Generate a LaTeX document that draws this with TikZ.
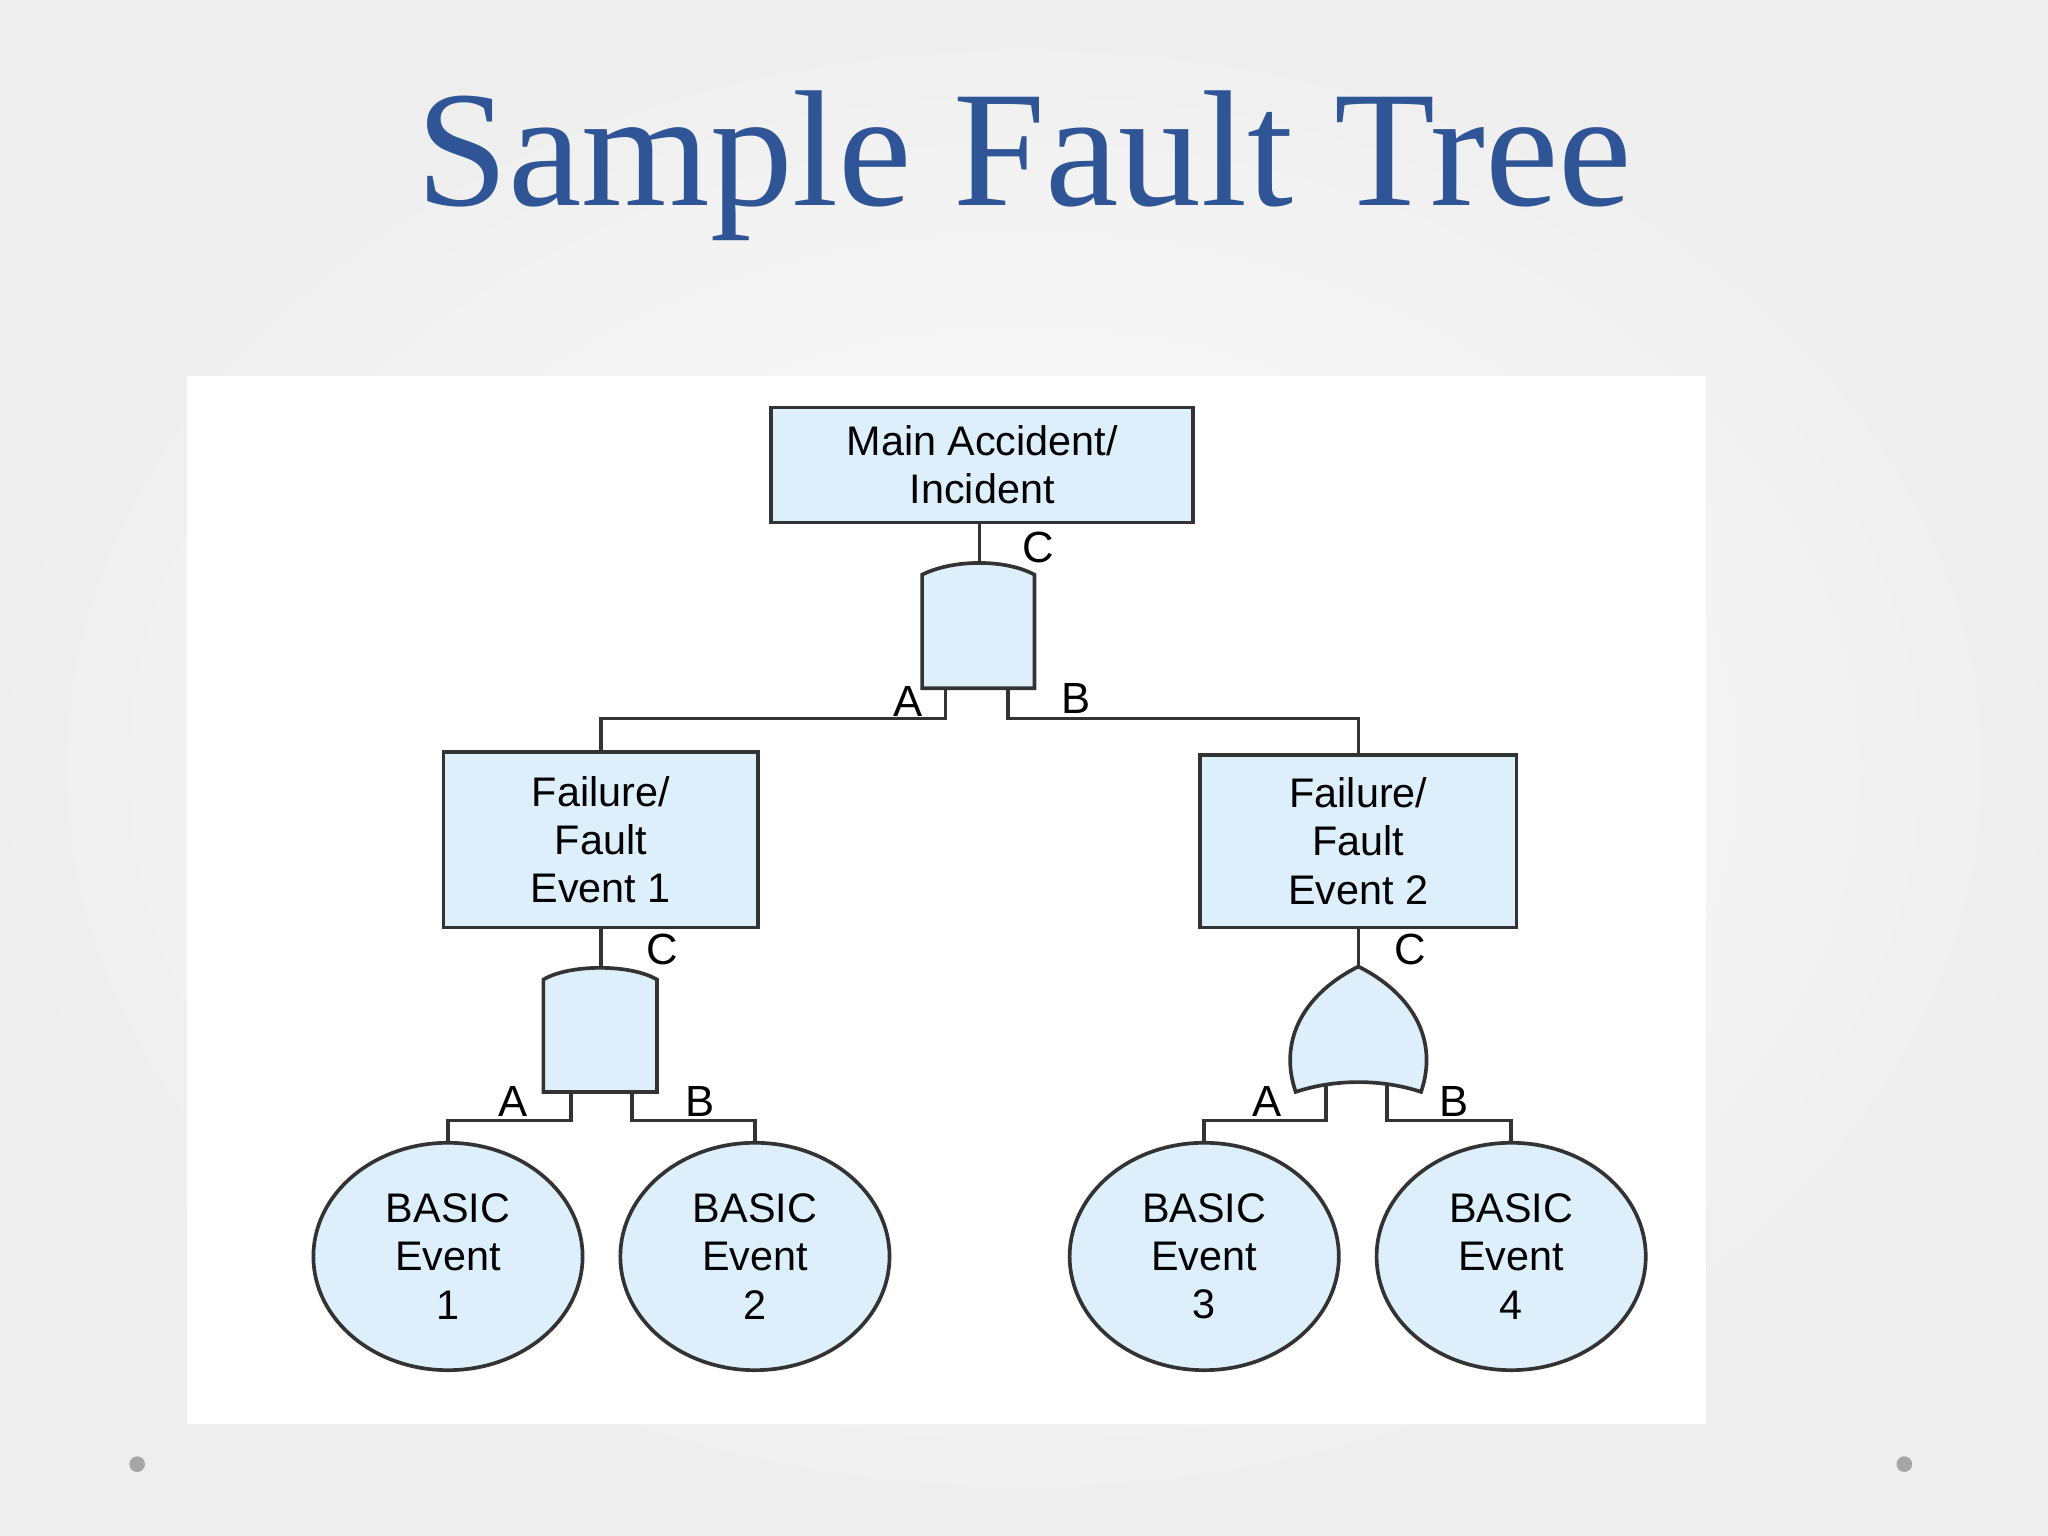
\documentclass[tikz,border=0pt]{standalone}
\usepackage{fontspec}
\usetikzlibrary{shapes.geometric}
\setmainfont{Liberation Sans}
\newfontfamily\titlefont{Liberation Serif}
\begin{document}
\begin{tikzpicture}[x=0.01cm,y=-0.01cm,
  ln/.style={draw=black!80,line width=0.8pt},
  box/.style={ln,fill=bfill,minimum width=3.23cm,minimum height=0.88cm,align=center,font=\fontsize{9}{10.5}\selectfont,inner sep=0pt},
  evt/.style={ln,fill=bfill,ellipse,minimum width=2.06cm,minimum height=1.74cm,align=center,font=\fontsize{9}{10.5}\selectfont,inner sep=0pt},
  lab/.style={font=\fontsize{9.5}{11}\selectfont}]
\definecolor{bfill}{HTML}{DDEFFB}
\definecolor{tblue}{HTML}{2F5597}
\useasboundingbox (0,0) rectangle (1568,1176);
\shade[inner color=white,outer color=gray!13] (0,0) rectangle (1568,1176);
\fill[white] (143,288) rectangle (1306,1090);
\fill[gray!70] (105,1121) circle (6) (1458,1121) circle (6);
\node[text=tblue,font=\titlefont\fontsize{36}{40}\selectfont] (title) at (784,127) {Sample Fault Tree};

\node[box] (main) at (752,356) {Main Accident/\\Incident};
\node[box,minimum width=2.41cm,minimum height=1.34cm] (f1) at (460,643) {Failure/\\Fault\\Event 1};
\node[box,minimum width=2.42cm,minimum height=1.32cm] (f2) at (1040,644) {Failure/\\Fault\\Event 2};
\node[evt] (b1) at (343,962) {BASIC\\Event\\1};
\node[evt] (b2) at (578,962) {BASIC\\Event\\2};
\node[evt] (b3) at (922,962) {BASIC\\Event\\3};
\node[evt] (b4) at (1157,962) {BASIC\\Event\\4};

% gate 1 (AND)
\coordinate (g1t) at (750,430);
\draw[ln,fill=bfill] (706,527) -- (706,440) .. controls (730,428) and (770,428) .. (792,440) -- (792,527) -- cycle;
\draw[ln] (main.south -| g1t) -- (g1t);
\coordinate (g1a) at (724,527); \coordinate (g1b) at (772,527);
\draw[ln] (g1a) -- (724,550) -| (f1.north);
\draw[ln] (g1b) -- (772,550) -| (f2.north);
\node[lab] (c1) at (795,419) {C};
\node[lab] (a1) at (695,537) {A};
\node[lab] (bb1) at (824,535) {B};

% gate 2 (AND)
\coordinate (g2t) at (460,740);
\draw[ln,fill=bfill] (416,836) -- (416,750) .. controls (436,738) and (483,738) .. (503,750) -- (503,836) -- cycle;
\draw[ln] (f1.south) -- (g2t);
\draw[ln] (437,836) -- (437,858) -| (b1.north);
\draw[ln] (484,836) -- (484,858) -| (b2.north);
\node[lab] (c2) at (507,727) {C};
\node[lab] (a2) at (393,843) {A};
\node[lab] (bb2) at (536,843) {B};

% gate 3 (OR)
\coordinate (g3t) at (1040,740);
\draw[ln,fill=bfill] (g3t) .. controls (1000,760) and (978,795) .. (992,836) .. controls (1022,826) and (1058,826) .. (1088,836) .. controls (1102,795) and (1080,760) .. (g3t);
\draw[ln] (f2.south) -- (g3t);
\draw[ln] (1015,829) -- (1015,858) -| (b3.north);
\draw[ln] (1062,829) -- (1062,858) -| (b4.north);
\node[lab] (c3) at (1080,727) {C};
\node[lab] (a3) at (970,843) {A};
\node[lab] (bb3) at (1113,843) {B};
\end{tikzpicture}
\end{document}
